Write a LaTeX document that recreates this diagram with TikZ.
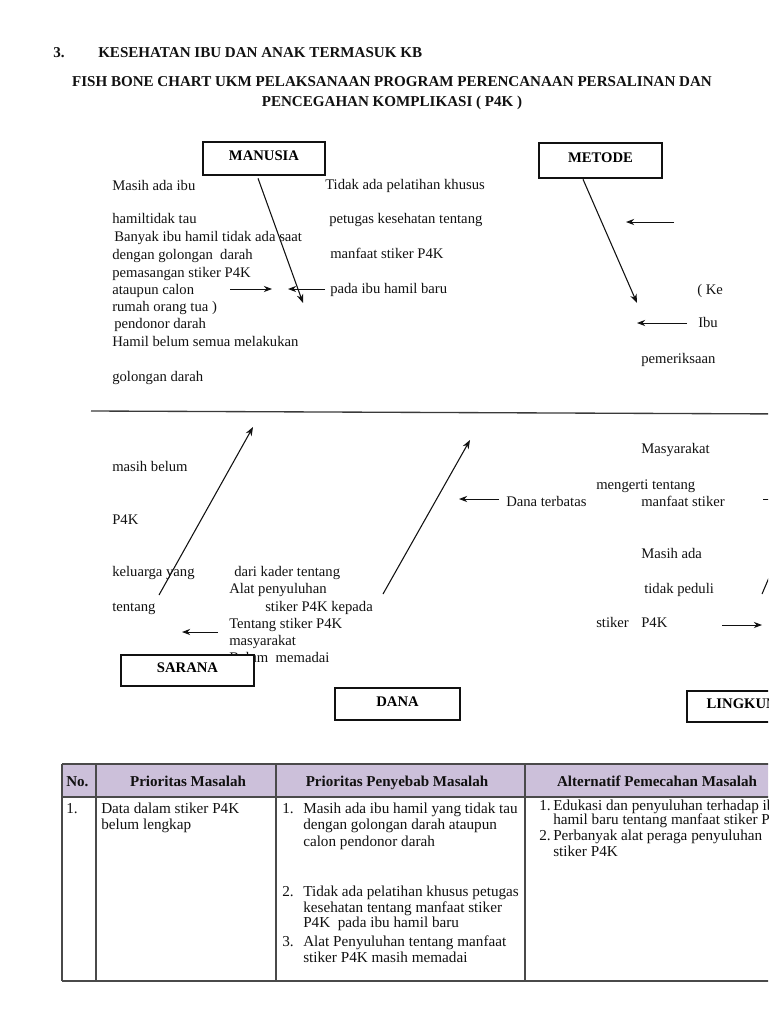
\documentclass[tikz,border=0pt]{standalone}
\usepackage{fontspec}
\setmainfont{Liberation Serif}
\usetikzlibrary{arrows.meta}
\definecolor{ink}{HTML}{111111}
\definecolor{spine}{HTML}{3A3A3A}
\definecolor{lavender}{HTML}{CCC0DA}
\definecolor{rule}{HTML}{4A4A4A}

\begin{document}
\begin{tikzpicture}[x=0.75pt,y=-0.75pt,>=Stealth,
    txt/.style={anchor=base west,inner sep=0pt,text=ink,font=\fontsize{11}{13}\selectfont},
    ttl/.style={txt,font=\fontsize{11.3}{13}\selectfont\bfseries},
    tbl/.style={txt,font=\fontsize{11.4}{13}\selectfont},
    catbox/.style={draw=ink,line width=1.9pt,fill=white,inner sep=0pt,text height=7.3pt,text depth=4.3pt,font=\fontsize{11}{13}\selectfont\bfseries},
    bone/.style={->,ink,line width=0.8pt},
    cue/.style={->,ink,line width=0.7pt}]
      % page frame, px units
      \useasboundingbox (0,0) rectangle (768,1024);
      \clip (0,0) rectangle (768,1024);

      % title
      \node[ttl] (num) at (53,58) {3.};
      \node[ttl] (topic) at (98,58) {KESEHATAN IBU DAN ANAK TERMASUK KB};
      \node[ttl,anchor=base] (head1) at (392,87) {FISH BONE CHART UKM PELAKSANAAN PROGRAM PERENCANAAN PERSALINAN DAN};
      \node[ttl,anchor=base] (head2) at (392,106) {PENCEGAHAN KOMPLIKASI ( P4K )};

      % manusia causes
      \node[txt] (man1) at (112,190) {Masih ada ibu};
      \node[txt] (man2) at (112,223.5) {hamiltidak tau};
      \node[txt] (man3) at (114,241.5) {Banyak ibu hamil tidak ada saat};
      \node[txt] (man4) at (112,259.5) {dengan golongan\ \ darah};
      \node[txt] (man5) at (112,277.5) {pemasangan stiker P4K};
      \node[txt] (man6) at (112,294) {ataupun calon};
      \node[txt] (man7) at (112,311.5) {rumah orang tua )};
      \node[txt] (man8) at (114,328.5) {pendonor darah};
      \node[txt] (man9) at (112,346.5) {Hamil belum semua melakukan};
      \node[txt] (man10) at (112,381.5) {golongan darah};
      \node[txt] (pet1) at (325,189.5) {Tidak ada pelatihan khusus};
      \node[txt] (pet2) at (329,223.5) {petugas kesehatan tentang};
      \node[txt] (pet3) at (330,258.5) {manfaat stiker P4K};
      \node[txt] (pet4) at (330,293.5) {pada ibu hamil baru};

      % metode causes
      \node[txt] (met1) at (697,294.5) {( Ke};
      \node[txt] (met2) at (698,327.5) {Ibu};
      \node[txt] (met3) at (641,363.5) {pemeriksaan};

      % sarana causes
      \node[txt] (sar1) at (112,471.5) {masih belum};
      \node[txt] (sar2) at (112,524.5) {P4K};
      \node[txt] (sar3) at (112,576.5) {keluarga yang};
      \node[txt] (sar4) at (112,611.5) {tentang};
      \node[txt] (sar5) at (234,576.5) {dari kader tentang};
      \node[txt] (sar6) at (229,593.5) {Alat penyuluhan};
      \node[txt] (sar7) at (265,611.5) {stiker P4K kepada};
      \node[txt] (sar8) at (229,628.5) {Tentang stiker P4K};
      \node[txt] (sar9) at (229,645.5) {masyarakat};
      \node[txt] (sar10) at (229,662.5) {Belum\ \ memadai};

      % dana and lingkungan causes
      \node[txt] (dan1) at (506,506.5) {Dana terbatas};
      \node[txt] (lin1) at (641,453.5) {Masyarakat};
      \node[txt] (lin2) at (596,489.5) {mengerti tentang};
      \node[txt] (lin3) at (641,506.5) {manfaat stiker};
      \node[txt] (lin4) at (641,558.5) {Masih ada};
      \node[txt] (lin5) at (644,593.5) {tidak peduli};
      \node[txt] (lin6) at (596,627.5) {stiker};
      \node[txt] (lin7) at (641,627.5) {P4K};

      % category boxes
      \node[catbox,minimum width=91.5pt,minimum height=24.75pt] (manusia) at (264,158.5) {MANUSIA};
      \node[catbox,minimum width=92.25pt,minimum height=26.25pt] (metode) at (600.5,160.5) {METODE};
      \node[catbox,minimum width=99.75pt,minimum height=23.25pt] (sarana) at (187.5,670.5) {SARANA};
      \node[catbox,minimum width=93.75pt,minimum height=24pt] (dana) at (397.5,704) {DANA};
      \node[catbox,minimum width=106.5pt,minimum height=23.25pt] (lingkungan) at (758,706.5) {LINGKUNGAN};

      % spine
      \coordinate (spineL) at (91,411);
      \coordinate (spineR) at (790,414);
      \draw[spine,line width=1pt] (spineL) -- (spineR);

      % bones
      \coordinate (manTip) at (303,303);
      \coordinate (metTip) at (637,303);
      \coordinate (sarFoot) at (159,595);
      \coordinate (sarTip) at (253,427);
      \coordinate (danFoot) at (383,594);
      \coordinate (danTip) at (470,440);
      \coordinate (linFoot) at (762,594);
      \coordinate (linTip) at (800,505);
      \draw[bone] (manusia.south) ++(-6,2) -- (manTip);
      \draw[bone] (metode.south) ++(-17.5,0) -- (metTip);
      \draw[bone] (sarFoot) -- (sarTip);
      \draw[bone] (danFoot) -- (danTip);
      \draw[bone] (linFoot) -- (linTip);

      % small cause arrows
      \coordinate (c1a) at (230,289);  \coordinate (c1b) at (272,289);
      \coordinate (c2a) at (325,289);  \coordinate (c2b) at (288,289);
      \coordinate (c3a) at (674,222);  \coordinate (c3b) at (626,222);
      \coordinate (c4a) at (687,323);  \coordinate (c4b) at (637,323);
      \coordinate (c5a) at (218,632);  \coordinate (c5b) at (182,632);
      \coordinate (c6a) at (499,499);  \coordinate (c6b) at (459,499);
      \coordinate (c7a) at (722,625);  \coordinate (c7b) at (762,625);
      \coordinate (c8a) at (763,499);  \coordinate (c8b) at (803,499);
      \foreach \i in {1,...,8}
        \draw[cue] (c\i a) -- (c\i b);

      % table
      \fill[lavender] (62,764) rectangle (790,797);
      \draw[rule,line width=0.8pt] (62,797) -- (790,797) (62,981) -- (790,981);
      \draw[rule,line width=1.3pt] (62,764) -- (790,764);
      \draw[rule,line width=1.6pt] (62,764) -- (62,981);
      \foreach \cx in {96,276,525}
        \draw[rule,line width=0.8pt] (\cx,764) -- (\cx,981);

      \node[ttl] (hNo) at (66,786.5) {No.};
      \node[ttl,anchor=base] (hMas) at (188,786.5) {Prioritas Masalah};
      \node[ttl,anchor=base] (hSeb) at (397,786.5) {Prioritas Penyebab Masalah};
      \node[ttl,anchor=base] (hAlt) at (657,786.5) {Alternatif Pemecahan Masalah};

      \node[tbl] (rNo) at (66,813.5) {1.};
      \node[tbl] (rMas1) at (101,813.5) {Data dalam stiker P4K};
      \node[tbl] (rMas2) at (101,829.5) {belum lengkap};

      \node[tbl] (sNo1) at (282,813.5) {1.};
      \node[tbl] (sA1) at (303,813.5) {Masih ada ibu hamil yang tidak tau};
      \node[tbl] (sA2) at (303,829.5) {dengan golongan darah ataupun};
      \node[tbl] (sA3) at (303,846.5) {calon pendonor darah};
      \node[tbl] (sNo2) at (282,896.5) {2.};
      \node[tbl] (sB1) at (303,896.5) {Tidak ada pelatihan khusus petugas};
      \node[tbl] (sB2) at (303,912.5) {kesehatan tentang manfaat stiker};
      \node[tbl] (sB3) at (303,927.5) {P4K\ \ pada ibu hamil baru};
      \node[tbl] (sNo3) at (282,946.5) {3.};
      \node[tbl] (sC1) at (303,946.5) {Alat Penyuluhan tentang manfaat};
      \node[tbl] (sC2) at (303,962.5) {stiker P4K masih memadai};

      \node[tbl] (aNo1) at (539,810.5) {1.};
      \node[tbl] (aA1) at (553,810.5) {Edukasi dan penyuluhan terhadap ibu};
      \node[tbl] (aA2) at (553,824.5) {hamil baru tentang manfaat stiker P4K};
      \node[tbl] (aNo2) at (539,840.5) {2.};
      \node[tbl] (aB1) at (553,840.5) {Perbanyak alat peraga penyuluhan};
      \node[tbl] (aB2) at (553,856.5) {stiker P4K};
\end{tikzpicture}
\end{document}
